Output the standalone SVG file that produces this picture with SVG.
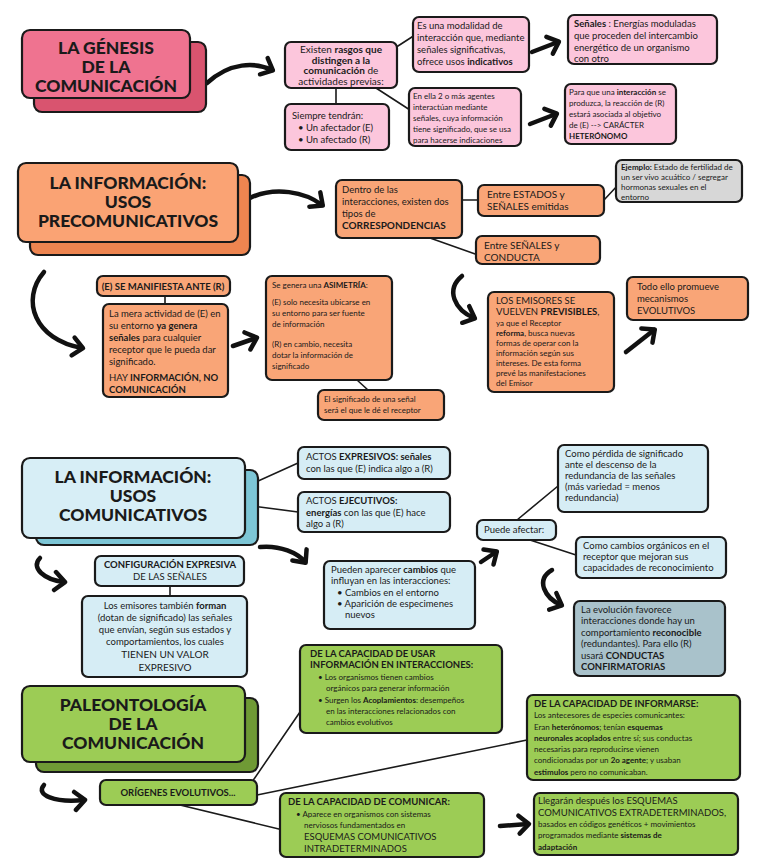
<svg xmlns="http://www.w3.org/2000/svg" width="768" height="866" viewBox="0 0 768 866">
<style>
text{font-family:Lato,"Noto Sans","Liberation Sans",sans-serif;fill:#1a1a1a}
.b{stroke:#1a1a1a;stroke-width:2.2}
.pk{fill:#fcc6dc}.or{fill:#f9a577}.bl{fill:#d6edf5}.gr{fill:#9ccc55}.gy{fill:#d7d7d7}.sb{fill:#a9c2cb}
.t{font-size:9.5px}.s{font-size:8px}.m{font-size:10px}
.ti{font-size:17.5px;font-weight:900;text-anchor:middle}
.ln{stroke:#1a1a1a;stroke-width:1.6;fill:none}
.ar{stroke:#111;stroke-width:4.5;fill:none;stroke-linecap:round;marker-end:url(#h)}
.bo{font-weight:bold}
</style>
<defs><marker id="h" markerUnits="userSpaceOnUse" markerWidth="24" markerHeight="24" refX="12" refY="12" orient="auto"><path d="M3,3 L13,12 L3,21" stroke="#111" stroke-width="4.5" fill="none" stroke-linecap="round" stroke-linejoin="round"/></marker></defs>
<rect width="768" height="866" fill="#fff"/>

<g id="connectors">
<path class="ln" d="M384,55 L415,35 M376,88 L410,110 M336,88 V104"/>
<path class="ln" d="M462,200 H478 M430,238 L478,255 M604,200 L618,185"/>
<path class="ln" d="M165,296 V304 M357,380 L368,390"/>
<path class="ln" d="M245,487 L298,463 M245,505 L298,512 M517,520 L558,486 M530,540 L576,555 M170,586 V596"/>
<path class="ln" d="M252,782 L300,712 M257,795 L527,740 M180,805 L283,830"/>
<path class="ar" d="M207,83 C230,62 255,62 272,70"/>
<path class="ar" d="M532,52 L558,42"/>
<path class="ar" d="M530,124 L556,114"/>
<path class="ar" d="M250,198 C275,186 305,192 322,205"/>
<path class="ar" d="M44,272 C20,300 35,340 82,348"/>
<path class="ar" d="M233,346 L256,338"/>
<path class="ar" d="M462,276 C445,290 455,310 474,318"/>
<path class="ar" d="M626,352 L654,330"/>
<path class="ar" d="M40,558 C30,568 45,580 64,582"/>
<path class="ar" d="M260,547 C280,545 298,553 305,562"/>
<path class="ar" d="M481,562 L496,552"/>
<path class="ar" d="M552,570 C535,580 545,598 561,605"/>
<path class="ar" d="M44,785 C35,795 55,803 84,800"/>
<path class="ar" d="M500,826 L528,824"/>
</g>

<g id="title1"><rect x="34" y="42" width="172" height="70" rx="8" fill="#d9546f" class="b"/><rect x="22" y="30" width="168" height="68" rx="8" fill="#ef7390" class="b"/>
<text class="ti" x="106" y="54">LA GÉNESIS</text><text class="ti" x="106" y="73">DE LA</text><text class="ti" x="106" y="92">COMUNICACIÓN</text></g>

<g id="rasgos"><rect class="b pk" x="285" y="42" width="112" height="46" rx="6"/>
<text class="m" text-anchor="middle" x="341" y="53">Existen <tspan class="bo">rasgos que</tspan></text>
<text class="m bo" text-anchor="middle" x="341" y="63.5">distingen a la</text>
<text class="m" text-anchor="middle" x="341" y="74">
<tspan class="bo">comunicación</tspan> de</text>
<text class="m" text-anchor="middle" x="341" y="84.5">actividades previas:</text></g>
<g id="siempre"><rect class="b pk" x="285" y="104" width="104" height="46" rx="6"/>
<text class="t" x="292" y="119">Siempre tendrán:</text><text class="t" x="298" y="131">• Un afectador (E)</text><text class="t" x="298" y="143">• Un afectado (R)</text></g>
<g id="modalidad"><rect class="b pk" x="413" y="17" width="116" height="55" rx="6"/>
<text class="t" x="417" y="29">Es una modalidad de</text><text class="t" x="417" y="41">interacción que, mediante</text><text class="t" x="417" y="53">señales significativas,</text><text class="t" x="417" y="65">ofrece usos <tspan class="bo">indicativos</tspan></text></g>
<g id="enella"><rect class="b pk" x="409" y="88" width="112" height="58" rx="6"/>
<text class="s" x="413" y="99">En ella 2 o más agentes</text><text class="s" x="413" y="110">interactúan mediante</text><text class="s" x="413" y="121">señales, cuya información</text><text class="s" x="413" y="132">tiene significado, que se usa</text><text class="s" x="413" y="143">para hacerse indicaciones</text></g>
<g id="senales"><rect class="b pk" x="568" y="15" width="149" height="49" rx="6"/>
<text class="t" x="574" y="27"><tspan class="bo">Señales</tspan> : Energías moduladas</text><text class="t" x="574" y="39">que proceden del intercambio</text><text class="t" x="574" y="51">energético de un organismo</text><text class="t" x="574" y="62">con otro</text></g>
<g id="paraque"><rect class="b pk" x="565" y="84" width="111" height="60" rx="6"/>
<text class="s" x="569" y="95">Para que una <tspan class="bo">interacción</tspan> se</text><text class="s" x="569" y="106">produzca, la reacción de (R)</text><text class="s" x="569" y="117">estará asociada al objetivo</text><text class="s" x="569" y="128">de (E) --&gt; CARÁCTER</text><text class="s bo" x="569" y="139">HETERÓNOMO</text></g>

<g id="title2"><rect x="30" y="175" width="220" height="80" rx="8" fill="#ee8550" class="b"/><rect x="18" y="163" width="220" height="79" rx="8" fill="#faa374" class="b"/>
<text class="ti" x="128" y="189">LA INFORMACIÓN:</text><text class="ti" x="128" y="208">USOS</text><text class="ti" x="128" y="227">PRECOMUNICATIVOS</text></g>
<g id="dentro"><rect class="b or" x="336" y="180" width="126" height="58" rx="6"/>
<text class="t" x="342" y="193">Dentro de las</text><text class="t" x="342" y="205">interacciones, existen dos</text><text class="t" x="342" y="217">tipos de</text><text class="m bo" x="342" y="229">CORRESPONDENCIAS</text></g>
<g id="estados"><rect class="b or" x="478" y="185" width="126" height="31" rx="6"/>
<text class="m" x="487" y="198">Entre ESTADOS y</text><text class="m" x="487" y="210">SEÑALES emitidas</text></g>
<g id="ejemplo"><rect class="b gy" x="616" y="160" width="126" height="42" rx="6"/>
<text class="s" x="621" y="170"><tspan class="bo">Ejemplo:</tspan> Estado de fertilidad de</text><text class="s" x="621" y="180">un ser vivo acuático / segregar</text><text class="s" x="621" y="190">hormonas sexuales en el</text><text class="s" x="621" y="200">entorno</text></g>
<g id="conducta"><rect class="b or" x="476" y="236" width="124" height="28" rx="6"/>
<text class="m" x="484" y="249">Entre SEÑALES y</text><text class="m" x="484" y="261">CONDUCTA</text></g>
<g id="manifiesta"><rect class="b or" x="97" y="276" width="133" height="20" rx="6"/><text class="t bo" x="163" y="290" text-anchor="middle">(E) SE MANIFIESTA ANTE (R)</text></g>
<g id="mera"><rect class="b or" x="103" y="304" width="125" height="93" rx="6"/>
<text class="t" x="109" y="317">La mera actividad de (E) en</text><text class="t" x="109" y="329">su entorno <tspan class="bo">ya genera</tspan></text><text class="t" x="109" y="341"><tspan class="bo">señales</tspan> para cualquier</text><text class="t" x="109" y="353">receptor que le pueda dar</text><text class="t" x="109" y="365">significado.</text><text class="t" x="109" y="381">HAY <tspan class="bo">INFORMACIÓN, NO</tspan></text><text class="t bo" x="109" y="393">COMUNICACIÓN</text></g>
<g id="asimetria"><rect class="b or" x="266" y="276" width="126" height="104" rx="6"/>
<text class="s" x="272" y="288">Se genera una <tspan class="bo">ASIMETRÍA</tspan>:</text><text class="s" x="272" y="305">(E) solo necesita ubicarse en</text><text class="s" x="272" y="316">su entorno para ser fuente</text><text class="s" x="272" y="327">de información</text><text class="s" x="272" y="347">(R) en cambio, necesita</text><text class="s" x="272" y="358">dotar la información de</text><text class="s" x="272" y="369">significado</text></g>
<g id="significado"><rect class="b or" x="318" y="390" width="126" height="30" rx="6"/>
<text class="s" x="324" y="402">El significado de una señal</text><text class="s" x="324" y="413">será el que le dé el receptor</text></g>
<g id="emisores"><rect class="b or" x="488" y="292" width="126" height="100" rx="6"/>
<text class="t" x="496" y="304">LOS EMISORES SE</text><text class="t" x="496" y="315">VUELVEN <tspan class="bo">PREVISIBLES</tspan>,</text>
<text class="s" x="496" y="325.5">ya que el Receptor</text><text class="s" x="496" y="335.5"><tspan class="bo">reforma</tspan>, busca nuevas</text><text class="s" x="496" y="345.5">formas de operar con la</text><text class="s" x="496" y="355.5">información según sus</text><text class="s" x="496" y="365.5">intereses. De esta forma</text><text class="s" x="496" y="375.5">prevé las manifestaciones</text><text class="s" x="496" y="385.5">del Emisor</text></g>
<g id="todo"><rect class="b or" x="627" y="277" width="121" height="43" rx="6"/>
<text class="t" x="637" y="290">Todo ello promueve</text><text class="t" x="637" y="302">mecanismos</text><text class="t" x="637" y="314">EVOLUTIVOS</text></g>

<g id="title3"><rect x="36" y="470" width="222" height="75" rx="8" fill="#7dc6d6" class="b"/><rect x="22" y="458" width="223" height="80" rx="8" fill="#d7eef6" class="b"/>
<text class="ti" x="133" y="483">LA INFORMACIÓN:</text><text class="ti" x="133" y="502">USOS</text><text class="ti" x="133" y="521">COMUNICATIVOS</text></g>
<g id="expresivos"><rect class="b bl" x="298" y="447" width="152" height="32" rx="6"/>
<text class="t" x="306" y="460">ACTOS <tspan class="bo">EXPRESIVOS: señales</tspan></text><text class="t" x="306" y="472">con las que (E) indica algo a (R)</text></g>
<g id="ejecutivos"><rect class="b bl" x="298" y="492" width="152" height="40" rx="6"/>
<text class="t" x="306" y="504">ACTOS <tspan class="bo">EJECUTIVOS:</tspan></text><text class="t" x="306" y="516"><tspan class="bo">energías</tspan> con las que (E) hace</text><text class="t" x="306" y="527">algo a (R)</text></g>
<g id="afectar"><rect class="b bl" x="477" y="520" width="79" height="20" rx="6"/><text class="t" x="484" y="533">Puede afectar:</text></g>
<g id="perdida"><rect class="b bl" x="558" y="445" width="150" height="67" rx="6"/>
<text class="t" x="565" y="457">Como pérdida de significado</text><text class="t" x="565" y="468">ante el descenso de la</text><text class="t" x="565" y="479">redundancia de las señales</text><text class="t" x="565" y="490">(más variedad = menos</text><text class="t" x="565" y="501">redundancia)</text></g>
<g id="organicos"><rect class="b bl" x="576" y="537" width="150" height="41" rx="6"/>
<text class="t" x="583" y="549">Como cambios orgánicos en el</text><text class="t" x="583" y="560">receptor que mejoran sus</text><text class="t" x="583" y="571">capacidades de reconocimiento</text></g>
<g id="evolucion"><rect class="b sb" x="574" y="601" width="151" height="75" rx="6"/>
<text class="t" x="581" y="613">La evolución favorece</text><text class="t" x="581" y="624">interacciones donde hay un</text><text class="t" x="581" y="636">comportamiento <tspan class="bo">reconocible</tspan></text><text class="t" x="581" y="647">(redundantes). Para ello (R)</text><text class="t" x="581" y="659">usará <tspan class="bo">CONDUCTAS</tspan></text><text class="t bo" x="581" y="670">CONFIRMATORIAS</text></g>
<g id="cambios"><rect class="b bl" x="324" y="561" width="151" height="68" rx="6"/>
<text class="t" x="331" y="573">Pueden aparecer <tspan class="bo">cambios</tspan> que</text><text class="t" x="331" y="584">influyan en las interacciones:</text><text class="t" x="337" y="596">• Cambios en el entorno</text><text class="t" x="337" y="607">• Aparición de especimenes</text><text class="t" x="345" y="618">nuevos</text></g>
<g id="configuracion"><rect class="b bl" x="95" y="556" width="149" height="30" rx="6"/>
<text class="t bo" x="170" y="568" text-anchor="middle">CONFIGURACIÓN EXPRESIVA</text><text class="t" x="170" y="580" text-anchor="middle">DE LAS SEÑALES</text></g>
<g id="forman"><rect class="b bl" x="82" y="596" width="165" height="81" rx="6"/>
<g class="t" text-anchor="middle"><text x="165" y="609">Los emisores también <tspan class="bo">forman</tspan></text><text x="165" y="621">(dotan de significado) las señales</text><text x="165" y="633">que envían, según sus estados y</text><text x="165" y="645">comportamientos, los cuales</text><text x="165" y="658" class="m">TIENEN UN VALOR</text><text x="165" y="671" class="m">EXPRESIVO</text></g></g>

<g id="title4"><rect x="36" y="698" width="222" height="74" rx="8" fill="#6f9a35" class="b"/><rect x="22" y="686" width="223" height="76" rx="8" fill="#9ccc55" class="b"/>
<text class="ti" x="133" y="711">PALEONTOLOGÍA</text><text class="ti" x="133" y="730">DE LA</text><text class="ti" x="133" y="749">COMUNICACIÓN</text></g>
<g id="usar"><rect class="b gr" x="300" y="645" width="202" height="88" rx="6"/>
<text class="t bo" x="310" y="657">DE LA CAPACIDAD DE USAR</text><text class="t bo" x="310" y="668">INFORMACIÓN EN INTERACCIONES:</text>
<text class="s" x="318" y="680">• Los organismos tienen cambios</text><text class="s" x="326" y="691">orgánicos para generar información</text><text class="s" x="318" y="703">• Surgen los <tspan class="bo">Acoplamientos</tspan>: desempeños</text><text class="s" x="326" y="714">en las interacciones relacionados con</text><text class="s" x="326" y="725">cambios evolutivos</text></g>
<g id="informarse"><rect class="b gr" x="527" y="695" width="213" height="85" rx="6"/>
<text class="t bo" x="534" y="707">DE LA CAPACIDAD DE INFORMARSE:</text><text class="s" x="534" y="718">Los antecesores de especies comunicantes:</text><text class="s" x="534" y="730">Eran <tspan class="bo">heterónomos</tspan>; tenían <tspan class="bo">esquemas</tspan></text><text class="s" x="534" y="741"><tspan class="bo">neuronales acoplados</tspan> entre sí; sus conductas</text><text class="s" x="534" y="752">necesarias para reproducirse vienen</text><text class="s" x="534" y="763">condicionadas por un <tspan class="bo">2o agente</tspan>; y usaban</text><text class="s" x="534" y="775"><tspan class="bo">estimulos</tspan> pero no comunicaban.</text></g>
<g id="origenes"><rect class="b gr" x="100" y="780" width="157" height="25" rx="6"/><text class="t bo" x="178" y="796" text-anchor="middle">ORÍGENES EVOLUTIVOS...</text></g>
<g id="comunicar"><rect class="b gr" x="280" y="793" width="204" height="64" rx="6"/>
<text class="t bo" x="288" y="805">DE LA CAPACIDAD DE COMUNICAR:</text><text class="s" x="296" y="817">• Aparece en organismos con sistemas</text><text class="s" x="304" y="828">nerviosos fundamentados en</text><text class="t" x="304" y="840">ESQUEMAS COMUNICATIVOS</text><text class="t" x="304" y="852">INTRADETERMINADOS</text></g>
<g id="llegaran"><rect class="b gr" x="534" y="793" width="204" height="62" rx="6"/>
<text class="t" x="538" y="804">Llegarán después los ESQUEMAS</text><text class="t" x="538" y="816">COMUNICATIVOS EXTRADETERMINADOS,</text><text class="s" x="538" y="827">basados en códigos genéticos + movimientos</text><text class="s" x="538" y="838">programados mediante <tspan class="bo">sistemas de</tspan></text><text class="s bo" x="538" y="850">adaptación</text></g>
</svg>
